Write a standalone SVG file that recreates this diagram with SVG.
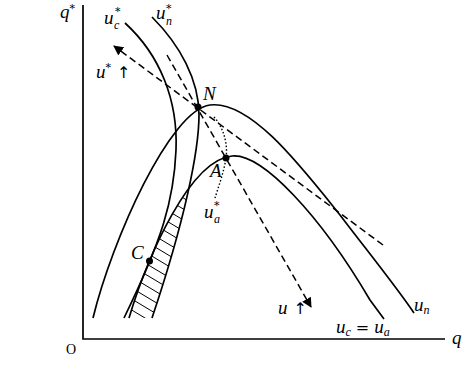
<svg xmlns="http://www.w3.org/2000/svg" width="474" height="366" viewBox="0 0 474 366">
<style>
.c{fill:none;stroke:#000;stroke-width:1.7}
.d{fill:none;stroke:#000;stroke-width:1.5;stroke-dasharray:7,4}
.dot{fill:none;stroke:#000;stroke-width:1.4;stroke-dasharray:1.5,2}
.h{stroke:#000;stroke-width:1}
.m{font-family:"Liberation Serif",serif;font-style:italic;font-size:19px;fill:#000}
.s{font-size:12px}
.st{font-size:11px;font-style:normal;font-family:"DejaVu Serif",serif}
.r{font-style:normal;font-family:"DejaVu Sans",sans-serif;font-size:16px}
.o{font-family:"Liberation Serif",serif;font-size:14px;fill:#000}
</style>
<defs>
<marker id="ar" viewBox="0 0 10 10" refX="9" refY="5" markerWidth="10" markerHeight="10" markerUnits="userSpaceOnUse" orient="auto">
<path d="M0,0 L10,5 L0,10 Z" fill="#000"/>
</marker>
<clipPath id="cA"><path d="M152,17 C180,45 199,80 199,115 C199,150 185,220 152,318 L0,318 L0,0 Z"/></clipPath>
<clipPath id="cB"><path d="M129,318 C148,255 190,160 232,156 L232,330 L129,330 Z"/></clipPath>
</defs>
<g id="axes">
<path class="c" d="M83,5 L83,339 L445,339"/>
</g>
<g id="hatch" clip-path="url(#cB)">
<g clip-path="url(#cA)">
<path class="h" d="M100,170 l140,84 M100,181 l140,84 M100,192 l140,84 M100,203 l140,84 M100,214 l140,84 M100,225 l140,84 M100,236 l140,84 M100,247 l140,84 M100,258 l140,84 M100,269 l140,84 M100,280 l140,84 M100,291 l140,84 M100,302 l140,84 M100,159 l140,84 M100,148 l140,84 M100,137 l140,84 M100,126 l140,84 M100,115 l140,84 M100,104 l140,84 M100,93 l140,84"/>
</g>
</g>
<g id="connectors">
<path class="d" d="M383,245 L114,46" marker-end="url(#ar)"/>
<path class="d" d="M167,55 L311,307" marker-end="url(#ar)"/>
<path class="dot" d="M214,117 C224,128 228,145 226,158 C224,172 218,188 215,198"/>
</g>
<g id="uc-star"><path class="c" d="M125,23 C160,55 178,100 176,150 C174,200 162,240 124,318"/></g>
<g id="un-star"><path class="c" d="M152,17 C180,45 199,80 199,115 C199,150 185,220 152,318"/></g>
<g id="un"><path class="c" d="M93,318 C112,240 170,110 210,105 C250,100 300,165 340,215 C365,248 395,285 414,313"/></g>
<g id="uc-ua"><path class="c" d="M129,318 C148,255 190,160 232,156 C262,153 320,215 370,300 L384,319"/></g>
<g id="N"><circle cx="198" cy="107" r="3.5"/><text class="m" x="203" y="100" font-size="16">N</text></g>
<g id="A"><circle cx="226" cy="158" r="3.5"/><text class="m" x="210" y="177" font-size="16">A</text></g>
<g id="C"><circle cx="149.5" cy="261" r="3.5"/><text class="m" x="131" y="259" font-size="16">C</text></g>
<g id="labels">
<text class="m" x="60" y="18">q<tspan class="st" dy="-6">*</tspan></text>
<text class="m" x="104" y="24">u<tspan class="s" x="114" y="29">c</tspan><tspan class="st" x="115" y="15">*</tspan></text>
<text class="m" x="156" y="19">u<tspan class="s" x="166" y="25">n</tspan><tspan class="st" x="166" y="12">*</tspan></text>
<text class="m" x="96" y="78">u<tspan class="st" dy="-7">*</tspan><tspan class="r" dy="7" dx="6">↑</tspan></text>
<text class="m" x="204" y="218">u<tspan class="s" x="214" y="223">a</tspan><tspan class="st" x="214" y="209">*</tspan></text>
<text class="m" x="278" y="314">u<tspan class="r" dx="6">↑</tspan></text>
<text class="m" x="336" y="333">u<tspan class="s" dy="3">c</tspan><tspan class="r" dy="-3" dx="5">=</tspan><tspan dx="5">u</tspan><tspan class="s" dy="3">a</tspan></text>
<text class="m" x="414" y="311">u<tspan class="s" dy="3">n</tspan></text>
<text class="m" x="452" y="344">q</text>
<text class="o" x="66" y="354">O</text>
</g>
</svg>
